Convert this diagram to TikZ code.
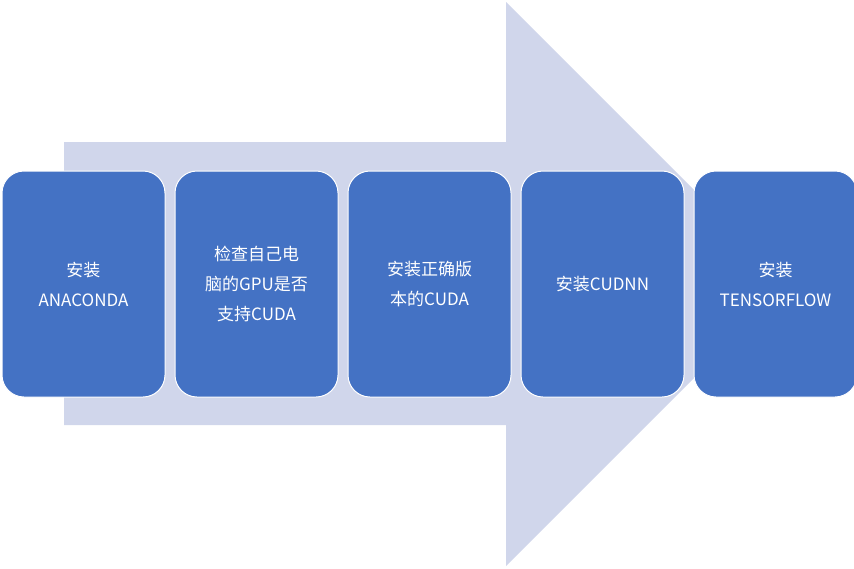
\documentclass[tikz,border=0pt]{standalone}
\usepackage{fontspec}
\setmainfont{Noto Sans CJK SC}
\usetikzlibrary{positioning}
\definecolor{arrowColor}{HTML}{D0D6EB}
\definecolor{stepColor}{HTML}{4472C4}
\begin{document}
\begin{tikzpicture}[x=1pt,y=-1pt,every node/.style={font=\fontsize{17}{30}\selectfont}]
    \tikzstyle{stepbox}=[rectangle,rounded corners=22pt,fill=stepColor,draw=white,%
      line width=1pt,text=white,align=center,text width=150pt,%
      minimum width=163pt,minimum height=226pt,inner sep=2pt]
    \useasboundingbox (0,0) rectangle (854,568);
    % Big arrow
    \fill[arrowColor] (64,142) -- (506,142) -- (506,2) -- (788,284)
      -- (506,566) -- (506,425) -- (64,425) -- cycle;
    % All steps
    \node (anaconda) [stepbox] at (83.5,284) {安装\\ANACONDA};
    \node (gpu) [stepbox,right=9pt of anaconda] {检查自己电\\脑的GPU是否\\支持CUDA};
    \node (cuda) [stepbox,right=9pt of gpu] {安装正确版\\本的CUDA};
    \node (cudnn) [stepbox,right=9pt of cuda] {安装CUDNN};
    \node (tensorflow) [stepbox,right=9pt of cudnn] {安装\\TENSORFLOW};
\end{tikzpicture}
\end{document}
